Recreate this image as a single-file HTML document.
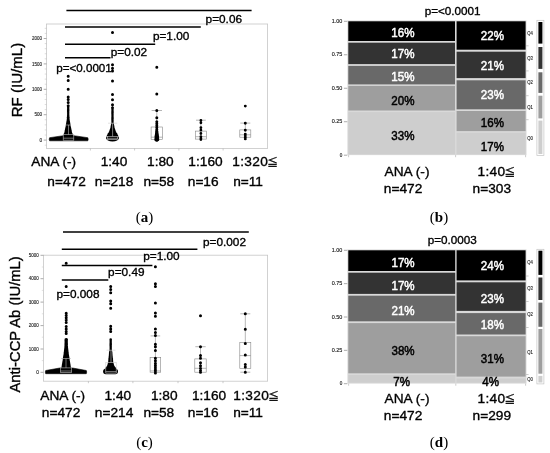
<!DOCTYPE html><html><head><meta charset="utf-8"><title>Figure</title><style>html,body{margin:0;padding:0;background:#fff}svg{display:block}</style></head><body><svg width="550" height="453" viewBox="0 0 550 453" font-family='"Liberation Sans","Noto Sans CJK JP",sans-serif'>
<rect width="550" height="453" fill="#fff"/>
<rect x="46.5" y="24.0" width="221.10000000000002" height="124.5" fill="none" stroke="#c6c6c6" stroke-width="0.8"/>
<text x="42.1" y="40.2" font-size="4.8" text-anchor="end" fill="#222" stroke="#222" stroke-width="0.12" textLength="10" lengthAdjust="spacingAndGlyphs">2000</text>
<line x1="43.7" y1="38.5" x2="46.5" y2="38.5" stroke="#888" stroke-width="0.7"/>
<text x="42.1" y="65.6" font-size="4.8" text-anchor="end" fill="#222" stroke="#222" stroke-width="0.12" textLength="10" lengthAdjust="spacingAndGlyphs">1500</text>
<line x1="43.7" y1="63.9" x2="46.5" y2="63.9" stroke="#888" stroke-width="0.7"/>
<text x="42.1" y="91.0" font-size="4.8" text-anchor="end" fill="#222" stroke="#222" stroke-width="0.12" textLength="10" lengthAdjust="spacingAndGlyphs">1000</text>
<line x1="43.7" y1="89.3" x2="46.5" y2="89.3" stroke="#888" stroke-width="0.7"/>
<text x="42.1" y="116.4" font-size="4.8" text-anchor="end" fill="#222" stroke="#222" stroke-width="0.12" textLength="7.7" lengthAdjust="spacingAndGlyphs">500</text>
<line x1="43.7" y1="114.7" x2="46.5" y2="114.7" stroke="#888" stroke-width="0.7"/>
<text x="42.1" y="141.8" font-size="4.8" text-anchor="end" fill="#222" stroke="#222" stroke-width="0.12">0</text>
<line x1="43.7" y1="140.1" x2="46.5" y2="140.1" stroke="#888" stroke-width="0.7"/>
<line x1="44.7" y1="145.18" x2="46.5" y2="145.18" stroke="#bbb" stroke-width="0.5"/>
<line x1="44.7" y1="135.01999999999998" x2="46.5" y2="135.01999999999998" stroke="#bbb" stroke-width="0.5"/>
<line x1="44.7" y1="129.94" x2="46.5" y2="129.94" stroke="#bbb" stroke-width="0.5"/>
<line x1="44.7" y1="124.86" x2="46.5" y2="124.86" stroke="#bbb" stroke-width="0.5"/>
<line x1="44.7" y1="119.78" x2="46.5" y2="119.78" stroke="#bbb" stroke-width="0.5"/>
<line x1="44.7" y1="109.61999999999999" x2="46.5" y2="109.61999999999999" stroke="#bbb" stroke-width="0.5"/>
<line x1="44.7" y1="104.53999999999999" x2="46.5" y2="104.53999999999999" stroke="#bbb" stroke-width="0.5"/>
<line x1="44.7" y1="99.46" x2="46.5" y2="99.46" stroke="#bbb" stroke-width="0.5"/>
<line x1="44.7" y1="94.38" x2="46.5" y2="94.38" stroke="#bbb" stroke-width="0.5"/>
<line x1="44.7" y1="84.22" x2="46.5" y2="84.22" stroke="#bbb" stroke-width="0.5"/>
<line x1="44.7" y1="79.13999999999999" x2="46.5" y2="79.13999999999999" stroke="#bbb" stroke-width="0.5"/>
<line x1="44.7" y1="74.05999999999999" x2="46.5" y2="74.05999999999999" stroke="#bbb" stroke-width="0.5"/>
<line x1="44.7" y1="68.97999999999999" x2="46.5" y2="68.97999999999999" stroke="#bbb" stroke-width="0.5"/>
<line x1="44.7" y1="58.81999999999999" x2="46.5" y2="58.81999999999999" stroke="#bbb" stroke-width="0.5"/>
<line x1="44.7" y1="53.739999999999995" x2="46.5" y2="53.739999999999995" stroke="#bbb" stroke-width="0.5"/>
<line x1="44.7" y1="48.66" x2="46.5" y2="48.66" stroke="#bbb" stroke-width="0.5"/>
<line x1="44.7" y1="43.58" x2="46.5" y2="43.58" stroke="#bbb" stroke-width="0.5"/>
<line x1="44.7" y1="33.41999999999999" x2="46.5" y2="33.41999999999999" stroke="#bbb" stroke-width="0.5"/>
<line x1="44.7" y1="28.33999999999999" x2="46.5" y2="28.33999999999999" stroke="#bbb" stroke-width="0.5"/>
<line x1="90.4" y1="148.5" x2="90.4" y2="150.5" stroke="#aaa" stroke-width="0.6"/>
<line x1="134.6" y1="148.5" x2="134.6" y2="150.5" stroke="#aaa" stroke-width="0.6"/>
<line x1="178.9" y1="148.5" x2="178.9" y2="150.5" stroke="#aaa" stroke-width="0.6"/>
<line x1="223.1" y1="148.5" x2="223.1" y2="150.5" stroke="#aaa" stroke-width="0.6"/>
<text transform="translate(22.2,117.3) rotate(-90)" font-size="15.5" textLength="74.5" lengthAdjust="spacingAndGlyphs" stroke="#000" stroke-width="0.35">RF (IU/mL)</text>
<path d="M68.2 108.0h0M68.2 109.2h0M68.2 110.4h0M68.2 111.6h0M68.2 112.8h0M68.2 114.0h0M68.2 115.2h0M68.2 116.4h0M68.0 117.6h0M68.2 117.6h0M68.4 117.6h0M68.0 118.8h0M68.2 118.8h0M68.4 118.8h0M67.9 120.0h0M68.2 120.0h0M68.5 120.0h0M67.7 121.2h0M68.2 121.2h0M68.7 121.2h0M67.5 122.4h0M68.2 122.4h0M68.9 122.4h0M67.3 123.6h0M68.2 123.6h0M69.1 123.6h0M67.1 124.8h0M68.2 124.8h0M69.3 124.8h0M66.9 126.0h0M68.2 126.0h0M69.5 126.0h0M66.7 127.2h0M68.2 127.2h0M69.7 127.2h0M66.4 128.4h0M67.3 128.4h0M68.2 128.4h0M69.1 128.4h0M70.0 128.4h0M66.2 129.6h0M67.2 129.6h0M68.2 129.6h0M69.2 129.6h0M70.2 129.6h0M65.9 130.8h0M67.1 130.8h0M68.2 130.8h0M69.3 130.8h0M70.5 130.8h0M65.7 132.0h0M66.9 132.0h0M68.2 132.0h0M69.5 132.0h0M70.7 132.0h0M65.4 133.2h0M66.8 133.2h0M68.2 133.2h0M69.6 133.2h0M71.0 133.2h0M64.9 134.4h0M66.0 134.4h0M67.1 134.4h0M68.2 134.4h0M69.3 134.4h0M70.4 134.4h0M71.5 134.4h0M64.4 135.6h0M65.7 135.6h0M66.9 135.6h0M68.2 135.6h0M69.5 135.6h0M70.7 135.6h0M72.0 135.6h0M64.2 136.8h0M65.5 136.8h0M66.9 136.8h0M68.2 136.8h0M69.5 136.8h0M70.9 136.8h0M72.2 136.8h0M64.0 138.0h0M65.4 138.0h0M66.8 138.0h0M68.2 138.0h0M69.6 138.0h0M71.0 138.0h0M72.4 138.0h0" stroke="#000" stroke-width="2.6" stroke-linecap="round" fill="none"/>
<path d="M49.6,137.7 L63.3,135.7 L73.9,135.7 L87.8,137.7 Q88.6,139.3 87.8,140.8 L49.6,140.8 Q48.8,139.3 49.6,137.7Z" fill="#000" stroke="#000" stroke-width="0.6" stroke-linejoin="round"/>
<path d="M68.2 76.2h0M68.2 80.4h0M68.2 89.3h0M68.2 96.9h0M68.2 99.5h0M68.2 102.6h0M68.2 105.8h0" stroke="#000" stroke-width="3.0" stroke-linecap="round" fill="none"/>
<path d="M112.5 110.0h0M112.5 111.2h0M112.5 112.4h0M112.5 113.6h0M112.5 114.8h0M112.5 116.0h0M112.5 117.2h0M112.5 118.4h0M112.5 119.6h0M112.5 120.8h0M112.5 122.0h0M112.5 123.2h0M112.3 124.4h0M112.5 124.4h0M112.7 124.4h0M112.0 125.6h0M112.5 125.6h0M113.0 125.6h0M111.8 126.8h0M112.5 126.8h0M113.2 126.8h0M111.6 128.0h0M112.5 128.0h0M113.4 128.0h0M111.2 129.2h0M112.5 129.2h0M113.8 129.2h0M110.8 130.4h0M111.7 130.4h0M112.5 130.4h0M113.3 130.4h0M114.2 130.4h0M110.4 131.6h0M111.5 131.6h0M112.5 131.6h0M113.5 131.6h0M114.6 131.6h0M109.8 132.8h0M111.1 132.8h0M112.5 132.8h0M113.9 132.8h0M115.2 132.8h0M108.9 134.0h0M110.1 134.0h0M111.3 134.0h0M112.5 134.0h0M113.7 134.0h0M114.9 134.0h0M116.1 134.0h0M108.4 135.2h0M109.7 135.2h0M111.1 135.2h0M112.5 135.2h0M113.9 135.2h0M115.3 135.2h0M116.6 135.2h0M108.0 136.0h0M109.5 136.0h0M111.0 136.0h0M112.5 136.0h0M114.0 136.0h0M115.5 136.0h0M117.0 136.0h0" stroke="#000" stroke-width="2.6" stroke-linecap="round" fill="none"/>
<ellipse cx="112.5" cy="138.1" rx="6.5" ry="3.3" fill="#000"/>
<path d="M112.5 32.4h0M112.5 64.8h0M112.5 68.3h0M112.5 70.9h0M112.5 81.0h0M112.5 94.4h0M112.5 99.7h0M112.5 104.8h0M112.5 107.8h0" stroke="#000" stroke-width="3.0" stroke-linecap="round" fill="none"/>
<g stroke="#858585" stroke-width="0.6" fill="none">
<rect x="151.10000000000002" y="127" width="11.4" height="12.599999999999994"/>
<line x1="151.10000000000002" y1="137.2" x2="162.5" y2="137.2"/>
<line x1="156.8" y1="110.5" x2="156.8" y2="127"/>
<line x1="151.60000000000002" y1="110.5" x2="162.0" y2="110.5"/>
</g>
<g stroke="#858585" stroke-width="0.6" fill="none">
<rect x="195.5" y="131.1" width="10.8" height="8.0"/>
<line x1="195.5" y1="136.7" x2="206.3" y2="136.7"/>
<line x1="200.9" y1="120.2" x2="200.9" y2="131.1"/>
<line x1="196.0" y1="120.2" x2="205.8" y2="120.2"/>
</g>
<g stroke="#858585" stroke-width="0.6" fill="none">
<rect x="239.8" y="129.9" width="11.0" height="7.299999999999983"/>
<line x1="239.8" y1="134.8" x2="250.8" y2="134.8"/>
<line x1="245.3" y1="123.1" x2="245.3" y2="129.9"/>
<line x1="240.3" y1="123.1" x2="250.3" y2="123.1"/>
</g>
<path d="M156.8 67.2h0M156.8 94.0h0M156.8 110.6h0M156.8 117.8h0M156.8 121.8h0M156.8 123.8h0M156.8 125.8h0M156.8 127.6h0M156.8 129.4h0M156.8 131.2h0M156.8 133.0h0M156.8 134.5h0M156.8 136.0h0M156.8 137.5h0M156.8 139.0h0M156.8 140.2h0" stroke="#000" stroke-width="3.0" stroke-linecap="round" fill="none"/>
<path d="M156.8 131.0h0M156.6 132.2h0M156.8 132.2h0M157.0 132.2h0M156.4 133.4h0M156.8 133.4h0M157.2 133.4h0M156.2 134.6h0M156.8 134.6h0M157.4 134.6h0M156.0 135.8h0M156.8 135.8h0M157.6 135.8h0M155.8 137.0h0M156.8 137.0h0M157.8 137.0h0M155.8 138.2h0M156.8 138.2h0M157.8 138.2h0M155.7 139.4h0M156.8 139.4h0M157.9 139.4h0M155.7 139.8h0M156.8 139.8h0M157.9 139.8h0" stroke="#000" stroke-width="2.8" stroke-linecap="round" fill="none"/>
<path d="M200.9 120.4h0M200.9 122.8h0M200.9 127.7h0M200.9 130.2h0M200.9 133.5h0M200.9 136.7h0M200.9 138.4h0M200.9 139.6h0" stroke="#000" stroke-width="2.8" stroke-linecap="round" fill="none"/>
<path d="M245.3 106.1h0M245.3 123.2h0M245.3 130.2h0M245.3 134.3h0M245.3 135.9h0M245.3 137.6h0M245.3 138.9h0" stroke="#000" stroke-width="2.9" stroke-linecap="round" fill="none"/>
<g stroke="#bbb" stroke-width="0.6" fill="none">
<rect x="63.2" y="134.6" width="10.6" height="5.599999999999994"/>
<line x1="63.2" y1="138.2" x2="73.8" y2="138.2"/>
<line x1="68.5" y1="125" x2="68.5" y2="134.6"/>
<line x1="66.0" y1="125" x2="71.0" y2="125"/>
</g>
<g stroke="#ccc" stroke-width="0.6" fill="none">
<rect x="107.6" y="136.4" width="10" height="3.1999999999999886"/>
<line x1="107.6" y1="138.3" x2="117.6" y2="138.3"/>
<line x1="112.6" y1="123.2" x2="112.6" y2="136.4"/>
<line x1="108.0" y1="123.2" x2="117.19999999999999" y2="123.2"/>
</g>
<line x1="66.4" y1="10.6" x2="251.6" y2="10.6" stroke="#000" stroke-width="1.5"/>
<line x1="65" y1="26.9" x2="200.8" y2="26.9" stroke="#000" stroke-width="1.5"/>
<line x1="65" y1="44.2" x2="155.2" y2="44.2" stroke="#000" stroke-width="1.5"/>
<line x1="65" y1="57.8" x2="110.5" y2="57.8" stroke="#000" stroke-width="1.5"/>
<text x="205.6" y="23.0" font-size="11.8" text-anchor="start" fill="#000" stroke="#000" stroke-width="0.35">p=0.06</text>
<text x="152.9" y="39.7" font-size="11.8" text-anchor="start" fill="#000" stroke="#000" stroke-width="0.35">p=1.00</text>
<text x="110.7" y="56.2" font-size="11.8" text-anchor="start" fill="#000" stroke="#000" stroke-width="0.35">p=0.02</text>
<text x="56.3" y="71.6" font-size="11.6" text-anchor="start" fill="#000" stroke="#000" stroke-width="0.35">p=&lt;0.0001</text>
<text x="53.75" y="166.0" font-size="13.7" text-anchor="middle" fill="#000" stroke="#000" stroke-width="0.35">ANA (-)</text>
<text x="114.0" y="166.0" font-size="13.7" text-anchor="middle" fill="#000" stroke="#000" stroke-width="0.35">1:40</text>
<text x="160.35" y="166.0" font-size="13.7" text-anchor="middle" fill="#000" stroke="#000" stroke-width="0.35">1:80</text>
<text x="205.5" y="166.0" font-size="13.7" text-anchor="middle" fill="#000" stroke="#000" stroke-width="0.35">1:160</text>
<text x="232.3" y="166.0" font-size="13.7" text-anchor="start" fill="#000" stroke="#000" stroke-width="0.35" letter-spacing="0.3">1:320<tspan font-size="10.6" font-family="Noto Sans CJK JP" dy="0.2" dx="-0.9">≦</tspan></text>
<text x="66.6" y="185.5" font-size="13.7" text-anchor="middle" fill="#000" stroke="#000" stroke-width="0.35">n=472</text>
<text x="114.1" y="185.5" font-size="13.7" text-anchor="middle" fill="#000" stroke="#000" stroke-width="0.35">n=218</text>
<text x="158.8" y="185.5" font-size="13.7" text-anchor="middle" fill="#000" stroke="#000" stroke-width="0.35">n=58</text>
<text x="203.2" y="185.5" font-size="13.7" text-anchor="middle" fill="#000" stroke="#000" stroke-width="0.35">n=16</text>
<text x="248.1" y="185.5" font-size="13.7" text-anchor="middle" fill="#000" stroke="#000" stroke-width="0.35">n=11</text>
<text x="144.5" y="221.5" font-size="15" text-anchor="middle" font-family='"Liberation Serif","Noto Serif CJK SC",serif'>(<tspan font-weight="bold">a</tspan>)</text>
<rect x="43.4" y="255.2" width="224.20000000000002" height="126.0" fill="none" stroke="#c6c6c6" stroke-width="0.8"/>
<text x="38.8" y="257.0" font-size="4.8" text-anchor="end" fill="#222" stroke="#222" stroke-width="0.12" textLength="10" lengthAdjust="spacingAndGlyphs">5000</text>
<line x1="40.5" y1="255.3" x2="43.4" y2="255.3" stroke="#888" stroke-width="0.7"/>
<text x="38.8" y="280.4" font-size="4.8" text-anchor="end" fill="#222" stroke="#222" stroke-width="0.12" textLength="10" lengthAdjust="spacingAndGlyphs">4000</text>
<line x1="40.5" y1="278.7" x2="43.4" y2="278.7" stroke="#888" stroke-width="0.7"/>
<text x="38.8" y="303.8" font-size="4.8" text-anchor="end" fill="#222" stroke="#222" stroke-width="0.12" textLength="10" lengthAdjust="spacingAndGlyphs">3000</text>
<line x1="40.5" y1="302.1" x2="43.4" y2="302.1" stroke="#888" stroke-width="0.7"/>
<text x="38.8" y="327.3" font-size="4.8" text-anchor="end" fill="#222" stroke="#222" stroke-width="0.12" textLength="10" lengthAdjust="spacingAndGlyphs">2000</text>
<line x1="40.5" y1="325.6" x2="43.4" y2="325.6" stroke="#888" stroke-width="0.7"/>
<text x="38.8" y="350.7" font-size="4.8" text-anchor="end" fill="#222" stroke="#222" stroke-width="0.12" textLength="10" lengthAdjust="spacingAndGlyphs">1000</text>
<line x1="40.5" y1="349" x2="43.4" y2="349" stroke="#888" stroke-width="0.7"/>
<text x="38.8" y="374.0" font-size="4.8" text-anchor="end" fill="#222" stroke="#222" stroke-width="0.12">0</text>
<line x1="40.5" y1="372.3" x2="43.4" y2="372.3" stroke="#888" stroke-width="0.7"/>
<line x1="41.8" y1="360.6" x2="43.4" y2="360.6" stroke="#c4c4c4" stroke-width="0.5"/>
<line x1="41.8" y1="337.20000000000005" x2="43.4" y2="337.20000000000005" stroke="#c4c4c4" stroke-width="0.5"/>
<line x1="41.8" y1="313.8" x2="43.4" y2="313.8" stroke="#c4c4c4" stroke-width="0.5"/>
<line x1="41.8" y1="290.40000000000003" x2="43.4" y2="290.40000000000003" stroke="#c4c4c4" stroke-width="0.5"/>
<line x1="41.8" y1="267.0" x2="43.4" y2="267.0" stroke="#c4c4c4" stroke-width="0.5"/>
<line x1="88.4" y1="381.2" x2="88.4" y2="383.2" stroke="#aaa" stroke-width="0.6"/>
<line x1="132.9" y1="381.2" x2="132.9" y2="383.2" stroke="#aaa" stroke-width="0.6"/>
<line x1="178" y1="381.2" x2="178" y2="383.2" stroke="#aaa" stroke-width="0.6"/>
<line x1="223" y1="381.2" x2="223" y2="383.2" stroke="#aaa" stroke-width="0.6"/>
<text transform="translate(19.8,392.5) rotate(-90)" font-size="14.8" textLength="136.3" lengthAdjust="spacingAndGlyphs" stroke="#000" stroke-width="0.35">Anti-CCP Ab (IU/mL)</text>
<path d="M65.8 339.6h0M66.2 339.6h0M66.7 339.6h0M65.7 340.8h0M66.2 340.8h0M66.7 340.8h0M65.7 342.0h0M66.2 342.0h0M66.7 342.0h0M65.7 343.2h0M66.2 343.2h0M66.7 343.2h0M65.7 344.4h0M66.2 344.4h0M66.7 344.4h0M65.7 345.6h0M66.2 345.6h0M66.7 345.6h0M65.6 346.8h0M66.2 346.8h0M66.8 346.8h0M65.5 348.0h0M66.2 348.0h0M66.9 348.0h0M65.3 349.2h0M66.2 349.2h0M67.1 349.2h0M65.2 350.4h0M66.2 350.4h0M67.2 350.4h0M65.1 351.6h0M66.2 351.6h0M67.3 351.6h0M64.9 352.8h0M66.2 352.8h0M67.5 352.8h0M64.8 354.0h0M66.2 354.0h0M67.6 354.0h0M64.6 355.2h0M65.4 355.2h0M66.2 355.2h0M67.0 355.2h0M67.8 355.2h0M64.4 356.4h0M65.3 356.4h0M66.2 356.4h0M67.1 356.4h0M68.0 356.4h0M64.2 357.6h0M65.2 357.6h0M66.2 357.6h0M67.2 357.6h0M68.2 357.6h0M64.0 358.8h0M65.1 358.8h0M66.2 358.8h0M67.3 358.8h0M68.4 358.8h0M63.9 360.0h0M65.0 360.0h0M66.2 360.0h0M67.4 360.0h0M68.5 360.0h0M63.7 361.2h0M64.9 361.2h0M66.2 361.2h0M67.5 361.2h0M68.7 361.2h0M63.5 362.4h0M64.8 362.4h0M66.2 362.4h0M67.6 362.4h0M68.9 362.4h0M63.3 363.6h0M64.7 363.6h0M66.2 363.6h0M67.7 363.6h0M69.1 363.6h0M63.1 364.8h0M64.6 364.8h0M66.2 364.8h0M67.8 364.8h0M69.3 364.8h0M62.9 366.0h0M64.0 366.0h0M65.1 366.0h0M66.2 366.0h0M67.3 366.0h0M68.4 366.0h0M69.5 366.0h0M62.7 367.2h0M63.8 367.2h0M65.0 367.2h0M66.2 367.2h0M67.4 367.2h0M68.6 367.2h0M69.7 367.2h0M62.5 368.4h0M63.7 368.4h0M65.0 368.4h0M66.2 368.4h0M67.4 368.4h0M68.7 368.4h0M69.9 368.4h0M62.3 369.6h0M63.6 369.6h0M64.9 369.6h0M66.2 369.6h0M67.5 369.6h0M68.8 369.6h0M70.1 369.6h0M62.2 370.0h0M63.5 370.0h0M64.9 370.0h0M66.2 370.0h0M67.5 370.0h0M68.9 370.0h0M70.2 370.0h0" stroke="#000" stroke-width="2.6" stroke-linecap="round" fill="none"/>
<path d="M45.7,370.5 L59.8,368 L72.6,368 L86.3,370.5 Q87.1,372 86.3,373.7 L45.7,373.7 Q44.9,372 45.7,370.5Z" fill="#000" stroke="#000" stroke-width="0.6" stroke-linejoin="round"/>
<path d="M66.2 263.3h0M66.2 286.4h0M66.2 313.2h0M66.2 315.5h0M66.2 317.8h0M66.2 320.1h0M66.2 322.6h0M66.2 326.5h0M66.2 329.0h0M66.2 331.5h0M66.2 333.5h0" stroke="#000" stroke-width="3.0" stroke-linecap="round" fill="none"/>
<path d="M110.7 339.6h0M110.7 340.8h0M110.7 342.0h0M110.7 343.2h0M110.7 344.4h0M110.7 345.6h0M110.7 346.8h0M110.7 348.0h0M110.7 349.2h0M110.7 350.4h0M110.4 351.6h0M110.7 351.6h0M111.0 351.6h0M110.2 352.8h0M110.7 352.8h0M111.2 352.8h0M110.1 354.0h0M110.7 354.0h0M111.3 354.0h0M110.0 355.2h0M110.7 355.2h0M111.4 355.2h0M109.9 356.4h0M110.7 356.4h0M111.5 356.4h0M109.8 357.6h0M110.7 357.6h0M111.6 357.6h0M109.6 358.8h0M110.7 358.8h0M111.8 358.8h0M109.5 360.0h0M110.7 360.0h0M111.9 360.0h0M109.4 361.2h0M110.7 361.2h0M112.0 361.2h0M109.3 362.4h0M110.7 362.4h0M112.1 362.4h0M109.0 363.6h0M109.8 363.6h0M110.7 363.6h0M111.6 363.6h0M112.4 363.6h0M108.7 364.8h0M109.7 364.8h0M110.7 364.8h0M111.7 364.8h0M112.7 364.8h0M108.3 366.0h0M109.5 366.0h0M110.7 366.0h0M111.9 366.0h0M113.1 366.0h0M107.5 367.2h0M108.5 367.2h0M109.6 367.2h0M110.7 367.2h0M111.8 367.2h0M112.9 367.2h0M113.9 367.2h0M106.6 368.4h0M108.0 368.4h0M109.3 368.4h0M110.7 368.4h0M112.1 368.4h0M113.4 368.4h0M114.8 368.4h0M105.9 369.5h0M107.5 369.5h0M109.1 369.5h0M110.7 369.5h0M112.3 369.5h0M113.9 369.5h0M115.5 369.5h0" stroke="#000" stroke-width="2.6" stroke-linecap="round" fill="none"/>
<rect x="103.1" y="368.7" width="14.9" height="5.5" rx="2.7" fill="#000"/>
<path d="M110.7 286.6h0M110.7 289.6h0M110.7 292.8h0M110.7 301.1h0M110.7 303.7h0M110.7 308.3h0M110.7 326.2h0M110.7 329.0h0M110.7 331.5h0" stroke="#000" stroke-width="3.0" stroke-linecap="round" fill="none"/>
<g stroke="#858585" stroke-width="0.6" fill="none">
<rect x="150.1" y="357.4" width="10.6" height="14.800000000000011"/>
<line x1="150.1" y1="370.9" x2="160.70000000000002" y2="370.9"/>
<line x1="155.4" y1="335.9" x2="155.4" y2="357.4"/>
<line x1="150.6" y1="335.9" x2="160.20000000000002" y2="335.9"/>
</g>
<g stroke="#858585" stroke-width="0.6" fill="none">
<rect x="194.8" y="358.9" width="11.4" height="13.300000000000011"/>
<line x1="194.8" y1="368.3" x2="206.2" y2="368.3"/>
<line x1="200.5" y1="346.7" x2="200.5" y2="358.9"/>
<line x1="195.3" y1="346.7" x2="205.7" y2="346.7"/>
</g>
<g stroke="#858585" stroke-width="0.6" fill="none">
<rect x="239.8" y="342.4" width="11.0" height="25.900000000000034"/>
<line x1="239.8" y1="355.6" x2="250.8" y2="355.6"/>
<line x1="245.3" y1="313.8" x2="245.3" y2="342.4"/>
<line x1="240.3" y1="313.8" x2="250.3" y2="313.8"/>
<line x1="245.3" y1="368.3" x2="245.3" y2="372.2"/>
<line x1="240.3" y1="372.2" x2="250.3" y2="372.2"/>
</g>
<path d="M155.4 266.7h0M155.4 283.8h0M155.4 286.6h0M155.4 303.1h0M155.4 313.0h0M155.4 316.3h0M155.4 329.0h0M155.4 332.4h0M155.4 335.6h0M155.4 344.2h0M155.4 346.7h0M155.4 350.5h0M155.4 358.2h0M155.4 360.7h0M155.4 363.3h0M155.4 365.3h0M155.4 367.0h0M155.4 368.9h0M155.4 370.4h0M155.4 371.9h0M155.4 372.9h0" stroke="#000" stroke-width="3.0" stroke-linecap="round" fill="none"/>
<path d="M200.5 315.8h0M200.5 346.7h0M200.5 355.6h0M200.5 358.2h0M200.5 362.7h0M200.5 365.8h0M200.5 368.3h0M200.5 370.4h0M200.5 372.2h0" stroke="#000" stroke-width="3.0" stroke-linecap="round" fill="none"/>
<path d="M245.3 313.8h0M245.3 329.2h0M245.3 343.4h0M245.3 354.9h0M245.3 364.5h0M245.3 367.0h0M245.3 372.2h0" stroke="#000" stroke-width="3.0" stroke-linecap="round" fill="none"/>
<g stroke="#bbb" stroke-width="0.6" fill="none">
<rect x="60.3" y="367.9" width="11.4" height="4.800000000000011"/>
<line x1="60.3" y1="371" x2="71.7" y2="371"/>
<line x1="66.0" y1="358.5" x2="66.0" y2="367.9"/>
<line x1="61.0" y1="358.5" x2="71.0" y2="358.5"/>
</g>
<g stroke="#ccc" stroke-width="0.6" fill="none">
<rect x="105.8" y="362.6" width="10.4" height="10.5"/>
<line x1="105.8" y1="371.6" x2="116.2" y2="371.6"/>
<line x1="111.0" y1="350.2" x2="111.0" y2="362.6"/>
<line x1="106.5" y1="350.2" x2="115.5" y2="350.2"/>
</g>
<line x1="63" y1="232" x2="248.8" y2="232" stroke="#000" stroke-width="1.45"/>
<line x1="61.8" y1="249.2" x2="197.4" y2="249.2" stroke="#000" stroke-width="1.45"/>
<line x1="61.8" y1="265.4" x2="152.4" y2="265.4" stroke="#000" stroke-width="1.45"/>
<line x1="61.8" y1="280" x2="108.3" y2="280" stroke="#000" stroke-width="1.45"/>
<text x="203" y="246.4" font-size="11.8" text-anchor="start" fill="#000" stroke="#000" stroke-width="0.35">p=0.002</text>
<text x="143.2" y="259.8" font-size="11.8" text-anchor="start" fill="#000" stroke="#000" stroke-width="0.35">p=1.00</text>
<text x="108.1" y="276.1" font-size="11.8" text-anchor="start" fill="#000" stroke="#000" stroke-width="0.35">p=0.49</text>
<text x="56.5" y="297.7" font-size="11.8" text-anchor="start" fill="#000" stroke="#000" stroke-width="0.35">p=0.008</text>
<text x="62.7" y="400.2" font-size="13.7" text-anchor="middle" fill="#000" stroke="#000" stroke-width="0.35">ANA (-)</text>
<text x="117.8" y="400.2" font-size="13.7" text-anchor="middle" fill="#000" stroke="#000" stroke-width="0.35">1:40</text>
<text x="164.2" y="400.2" font-size="13.7" text-anchor="middle" fill="#000" stroke="#000" stroke-width="0.35">1:80</text>
<text x="209.05" y="400.2" font-size="13.7" text-anchor="middle" fill="#000" stroke="#000" stroke-width="0.35">1:160</text>
<text x="233.3" y="400.2" font-size="13.7" text-anchor="start" fill="#000" stroke="#000" stroke-width="0.35" letter-spacing="0.3">1:320<tspan font-size="10.6" font-family="Noto Sans CJK JP" dy="0.2" dx="-0.9">≦</tspan></text>
<text x="61.05" y="417.3" font-size="13.7" text-anchor="middle" fill="#000" stroke="#000" stroke-width="0.35">n=472</text>
<text x="114.1" y="417.3" font-size="13.7" text-anchor="middle" fill="#000" stroke="#000" stroke-width="0.35">n=214</text>
<text x="158.8" y="417.3" font-size="13.7" text-anchor="middle" fill="#000" stroke="#000" stroke-width="0.35">n=58</text>
<text x="203.2" y="417.3" font-size="13.7" text-anchor="middle" fill="#000" stroke="#000" stroke-width="0.35">n=16</text>
<text x="248.1" y="417.3" font-size="13.7" text-anchor="middle" fill="#000" stroke="#000" stroke-width="0.35">n=11</text>
<text x="144.5" y="447" font-size="15" text-anchor="middle" font-family='"Liberation Serif","Noto Serif CJK SC",serif'>(<tspan font-weight="bold">c</tspan>)</text>
<rect x="347.40000000000003" y="20.400000000000002" width="179.10000000000002" height="134.7" fill="#d9d9d9"/>
<rect x="348.3" y="21.3" width="106.7" height="19.7" fill="#000"/>
<rect x="348.3" y="42.7" width="106.7" height="21.4" fill="#333"/>
<rect x="348.3" y="65.9" width="106.7" height="18.5" fill="#696969"/>
<rect x="348.3" y="85.9" width="106.7" height="24.6" fill="#9e9e9e"/>
<rect x="348.3" y="112.1" width="106.7" height="42.1" fill="#cecece"/>
<text x="402.95" y="37.25" font-size="13" text-anchor="middle" fill="#fff" stroke="#fff" stroke-width="0.5" textLength="23.2" lengthAdjust="spacingAndGlyphs">16%</text>
<text x="402.95" y="58.05" font-size="13" text-anchor="middle" fill="#fff" stroke="#fff" stroke-width="0.5" textLength="23.2" lengthAdjust="spacingAndGlyphs">17%</text>
<text x="402.95" y="81.45" font-size="13" text-anchor="middle" fill="#fff" stroke="#fff" stroke-width="0.5" textLength="23.2" lengthAdjust="spacingAndGlyphs">15%</text>
<text x="402.95" y="104.55" font-size="13" text-anchor="middle" fill="#000" stroke="#000" stroke-width="0.5" textLength="23.2" lengthAdjust="spacingAndGlyphs">20%</text>
<text x="402.95" y="139.95" font-size="13" text-anchor="middle" fill="#000" stroke="#000" stroke-width="0.5" textLength="23.2" lengthAdjust="spacingAndGlyphs">33%</text>
<rect x="456.6" y="21.3" width="69.0" height="28.4" fill="#000"/>
<rect x="456.6" y="51.7" width="69.0" height="26.4" fill="#333"/>
<rect x="456.6" y="80.3" width="69.0" height="29.0" fill="#696969"/>
<rect x="456.6" y="111.0" width="69.0" height="20.1" fill="#9e9e9e"/>
<rect x="456.6" y="132.8" width="69.0" height="21.4" fill="#cecece"/>
<text x="492.4" y="40.45" font-size="13" text-anchor="middle" fill="#fff" stroke="#fff" stroke-width="0.5" textLength="23.2" lengthAdjust="spacingAndGlyphs">22%</text>
<text x="492.4" y="70.35" font-size="13" text-anchor="middle" fill="#fff" stroke="#fff" stroke-width="0.5" textLength="23.2" lengthAdjust="spacingAndGlyphs">21%</text>
<text x="492.4" y="99.45" font-size="13" text-anchor="middle" fill="#fff" stroke="#fff" stroke-width="0.5" textLength="23.2" lengthAdjust="spacingAndGlyphs">23%</text>
<text x="492.4" y="126.85" font-size="13" text-anchor="middle" fill="#000" stroke="#000" stroke-width="0.5" textLength="23.2" lengthAdjust="spacingAndGlyphs">16%</text>
<text x="492.4" y="151.25" font-size="13" text-anchor="middle" fill="#000" stroke="#000" stroke-width="0.5" textLength="23.2" lengthAdjust="spacingAndGlyphs">17%</text>
<text x="342.3" y="22.9" font-size="4.6" text-anchor="end" fill="#222" stroke="#222" stroke-width="0.12" textLength="10.6" lengthAdjust="spacingAndGlyphs">1.00</text>
<line x1="343.90000000000003" y1="21.30000000000001" x2="347.3" y2="21.30000000000001" stroke="#888" stroke-width="0.7"/>
<text x="342.3" y="56.38" font-size="4.6" text-anchor="end" fill="#222" stroke="#222" stroke-width="0.12" textLength="10.6" lengthAdjust="spacingAndGlyphs">0.75</text>
<line x1="343.90000000000003" y1="54.775000000000006" x2="347.3" y2="54.775000000000006" stroke="#888" stroke-width="0.7"/>
<text x="342.3" y="89.85" font-size="4.6" text-anchor="end" fill="#222" stroke="#222" stroke-width="0.12" textLength="10.6" lengthAdjust="spacingAndGlyphs">0.50</text>
<line x1="343.90000000000003" y1="88.25" x2="347.3" y2="88.25" stroke="#888" stroke-width="0.7"/>
<text x="342.3" y="123.32" font-size="4.6" text-anchor="end" fill="#222" stroke="#222" stroke-width="0.12" textLength="10.6" lengthAdjust="spacingAndGlyphs">0.25</text>
<line x1="343.90000000000003" y1="121.725" x2="347.3" y2="121.725" stroke="#888" stroke-width="0.7"/>
<text x="342.3" y="156.8" font-size="4.6" text-anchor="end" fill="#222" stroke="#222" stroke-width="0.12">0</text>
<line x1="343.90000000000003" y1="155.2" x2="347.3" y2="155.2" stroke="#888" stroke-width="0.7"/>
<line x1="348.6" y1="155.1" x2="348.6" y2="157.2" stroke="#aaa" stroke-width="0.6"/>
<line x1="455.6" y1="155.1" x2="455.6" y2="157.2" stroke="#aaa" stroke-width="0.6"/>
<line x1="525.6" y1="155.1" x2="525.6" y2="157.2" stroke="#aaa" stroke-width="0.6"/>
<line x1="526.1" y1="45.8" x2="528.6" y2="45.8" stroke="#aaa" stroke-width="0.6"/>
<line x1="526.1" y1="70.9" x2="528.6" y2="70.9" stroke="#aaa" stroke-width="0.6"/>
<line x1="526.1" y1="95.7" x2="528.6" y2="95.7" stroke="#aaa" stroke-width="0.6"/>
<line x1="526.1" y1="119.7" x2="528.6" y2="119.7" stroke="#aaa" stroke-width="0.6"/>
<text x="452.65" y="14.6" font-size="11.7" text-anchor="middle" fill="#000" stroke="#000" stroke-width="0.35">p=&lt;0.0001</text>
<text x="407.05" y="175.8" font-size="13.7" text-anchor="middle" fill="#000" stroke="#000" stroke-width="0.35">ANA (-)</text>
<text x="403.05" y="192.8" font-size="13.7" text-anchor="middle" fill="#000" stroke="#000" stroke-width="0.35">n=472</text>
<text x="477.5" y="175.8" font-size="13.7" text-anchor="start" fill="#000" stroke="#000" stroke-width="0.35" letter-spacing="0.3">1:40<tspan font-size="10.6" font-family="Noto Sans CJK JP" dy="0.2" dx="-0.9">≦</tspan></text>
<text x="491.85" y="192.8" font-size="13.7" text-anchor="middle" fill="#000" stroke="#000" stroke-width="0.35">n=303</text>
<rect x="536.9" y="20.3" width="7" height="135.09999999999997" fill="#fff" stroke="#c4c4c4" stroke-width="0.7"/>
<rect x="538.4" y="22" width="4" height="21.6" fill="#000"/>
<rect x="538.4" y="47" width="4" height="21.900000000000006" fill="#333"/>
<rect x="538.4" y="72.3" width="4" height="20.60000000000001" fill="#696969"/>
<rect x="538.4" y="95.7" width="4" height="22.700000000000003" fill="#9e9e9e"/>
<rect x="538.4" y="120.6" width="4" height="33.400000000000006" fill="#cecece"/>
<text x="527.2" y="35.4" font-size="4.5" text-anchor="start" fill="#222" stroke="#222" stroke-width="0.12" textLength="5.6" lengthAdjust="spacingAndGlyphs">Q4</text>
<text x="527.2" y="60.1" font-size="4.5" text-anchor="start" fill="#222" stroke="#222" stroke-width="0.12" textLength="5.6" lengthAdjust="spacingAndGlyphs">Q3</text>
<text x="527.2" y="84.3" font-size="4.5" text-anchor="start" fill="#222" stroke="#222" stroke-width="0.12" textLength="5.6" lengthAdjust="spacingAndGlyphs">Q2</text>
<text x="527.2" y="109.1" font-size="4.5" text-anchor="start" fill="#222" stroke="#222" stroke-width="0.12" textLength="5.6" lengthAdjust="spacingAndGlyphs">Q1</text>
<text x="527.2" y="139.7" font-size="4.5" text-anchor="start" fill="#222" stroke="#222" stroke-width="0.12" textLength="5.6" lengthAdjust="spacingAndGlyphs">Q0</text>
<text x="439" y="221.5" font-size="15" text-anchor="middle" font-family='"Liberation Serif","Noto Serif CJK SC",serif'>(<tspan font-weight="bold">b</tspan>)</text>
<rect x="347.40000000000003" y="249.4" width="179.10000000000002" height="134.2" fill="#d9d9d9"/>
<rect x="348.3" y="250.3" width="106.9" height="20.7" fill="#000"/>
<rect x="348.3" y="272.7" width="106.9" height="21.2" fill="#333"/>
<rect x="348.3" y="295.7" width="106.9" height="25.6" fill="#696969"/>
<rect x="348.3" y="323.1" width="106.9" height="50.2" fill="#9e9e9e"/>
<rect x="348.3" y="375.0" width="106.9" height="7.7" fill="#cecece"/>
<text x="403.05" y="267.25" font-size="13" text-anchor="middle" fill="#fff" stroke="#fff" stroke-width="0.5" textLength="23.2" lengthAdjust="spacingAndGlyphs">17%</text>
<text x="403.05" y="290.15" font-size="13" text-anchor="middle" fill="#fff" stroke="#fff" stroke-width="0.5" textLength="23.2" lengthAdjust="spacingAndGlyphs">17%</text>
<text x="403.05" y="315.25" font-size="13" text-anchor="middle" fill="#fff" stroke="#fff" stroke-width="0.5" textLength="23.2" lengthAdjust="spacingAndGlyphs">21%</text>
<text x="403.05" y="355.25" font-size="13" text-anchor="middle" fill="#000" stroke="#000" stroke-width="0.5" textLength="23.2" lengthAdjust="spacingAndGlyphs">38%</text>
<text x="401.7" y="385.7" font-size="13" text-anchor="middle" fill="#000" stroke="#000" stroke-width="0.5" textLength="16.8" lengthAdjust="spacingAndGlyphs">7%</text>
<rect x="456.6" y="250.3" width="69.0" height="30.1" fill="#000"/>
<rect x="456.6" y="282.3" width="69.0" height="28.6" fill="#333"/>
<rect x="456.6" y="313.1" width="69.0" height="21.4" fill="#696969"/>
<rect x="456.6" y="336.2" width="69.0" height="40.4" fill="#9e9e9e"/>
<rect x="456.6" y="378.5" width="69.0" height="4.2" fill="#cecece"/>
<text x="492.4" y="269.85" font-size="13" text-anchor="middle" fill="#fff" stroke="#fff" stroke-width="0.5" textLength="23.2" lengthAdjust="spacingAndGlyphs">24%</text>
<text x="492.4" y="302.65" font-size="13" text-anchor="middle" fill="#fff" stroke="#fff" stroke-width="0.5" textLength="23.2" lengthAdjust="spacingAndGlyphs">23%</text>
<text x="492.4" y="329.05" font-size="13" text-anchor="middle" fill="#fff" stroke="#fff" stroke-width="0.5" textLength="23.2" lengthAdjust="spacingAndGlyphs">18%</text>
<text x="492.4" y="363.45" font-size="13" text-anchor="middle" fill="#000" stroke="#000" stroke-width="0.5" textLength="23.2" lengthAdjust="spacingAndGlyphs">31%</text>
<text x="490.6" y="385.7" font-size="13" text-anchor="middle" fill="#000" stroke="#000" stroke-width="0.5" textLength="16.8" lengthAdjust="spacingAndGlyphs">4%</text>
<text x="342.3" y="251.9" font-size="4.6" text-anchor="end" fill="#222" stroke="#222" stroke-width="0.12" textLength="10.6" lengthAdjust="spacingAndGlyphs">1.00</text>
<line x1="343.90000000000003" y1="250.3" x2="347.3" y2="250.3" stroke="#888" stroke-width="0.7"/>
<text x="342.3" y="285.25" font-size="4.6" text-anchor="end" fill="#222" stroke="#222" stroke-width="0.12" textLength="10.6" lengthAdjust="spacingAndGlyphs">0.75</text>
<line x1="343.90000000000003" y1="283.65" x2="347.3" y2="283.65" stroke="#888" stroke-width="0.7"/>
<text x="342.3" y="318.6" font-size="4.6" text-anchor="end" fill="#222" stroke="#222" stroke-width="0.12" textLength="10.6" lengthAdjust="spacingAndGlyphs">0.50</text>
<line x1="343.90000000000003" y1="317.0" x2="347.3" y2="317.0" stroke="#888" stroke-width="0.7"/>
<text x="342.3" y="351.95" font-size="4.6" text-anchor="end" fill="#222" stroke="#222" stroke-width="0.12" textLength="10.6" lengthAdjust="spacingAndGlyphs">0.25</text>
<line x1="343.90000000000003" y1="350.35" x2="347.3" y2="350.35" stroke="#888" stroke-width="0.7"/>
<text x="342.3" y="385.3" font-size="4.6" text-anchor="end" fill="#222" stroke="#222" stroke-width="0.12">0</text>
<line x1="343.90000000000003" y1="383.7" x2="347.3" y2="383.7" stroke="#888" stroke-width="0.7"/>
<line x1="348.6" y1="383.59999999999997" x2="348.6" y2="385.7" stroke="#aaa" stroke-width="0.6"/>
<line x1="455.8" y1="383.59999999999997" x2="455.8" y2="385.7" stroke="#aaa" stroke-width="0.6"/>
<line x1="525.6" y1="383.59999999999997" x2="525.6" y2="385.7" stroke="#aaa" stroke-width="0.6"/>
<line x1="526.1" y1="276" x2="528.6" y2="276" stroke="#aaa" stroke-width="0.6"/>
<line x1="526.1" y1="301.5" x2="528.6" y2="301.5" stroke="#aaa" stroke-width="0.6"/>
<line x1="526.1" y1="327.5" x2="528.6" y2="327.5" stroke="#aaa" stroke-width="0.6"/>
<line x1="526.1" y1="374.5" x2="528.6" y2="374.5" stroke="#aaa" stroke-width="0.6"/>
<text x="452.35" y="243.9" font-size="11.7" text-anchor="middle" fill="#000" stroke="#000" stroke-width="0.35">p=0.0003</text>
<text x="407.05" y="403.1" font-size="13.7" text-anchor="middle" fill="#000" stroke="#000" stroke-width="0.35">ANA (-)</text>
<text x="403.05" y="420.1" font-size="13.7" text-anchor="middle" fill="#000" stroke="#000" stroke-width="0.35">n=472</text>
<text x="477.5" y="403.1" font-size="13.7" text-anchor="start" fill="#000" stroke="#000" stroke-width="0.35" letter-spacing="0.3">1:40<tspan font-size="10.6" font-family="Noto Sans CJK JP" dy="0.2" dx="-0.9">≦</tspan></text>
<text x="491.85" y="420.1" font-size="13.7" text-anchor="middle" fill="#000" stroke="#000" stroke-width="0.35">n=299</text>
<rect x="536.9" y="249.3" width="7" height="134.59999999999997" fill="#fff" stroke="#c4c4c4" stroke-width="0.7"/>
<rect x="538.4" y="250.7" width="4" height="24.19999999999999" fill="#000"/>
<rect x="538.4" y="277.5" width="4" height="22.5" fill="#333"/>
<rect x="538.4" y="302.6" width="4" height="24.19999999999999" fill="#696969"/>
<rect x="538.4" y="329" width="4" height="44.69999999999999" fill="#9e9e9e"/>
<rect x="538.4" y="375.9" width="4" height="6.600000000000023" fill="#cecece"/>
<text x="527.2" y="264.3" font-size="4.5" text-anchor="start" fill="#222" stroke="#222" stroke-width="0.12" textLength="5.6" lengthAdjust="spacingAndGlyphs">Q4</text>
<text x="527.2" y="290.1" font-size="4.5" text-anchor="start" fill="#222" stroke="#222" stroke-width="0.12" textLength="5.6" lengthAdjust="spacingAndGlyphs">Q3</text>
<text x="527.2" y="316.4" font-size="4.5" text-anchor="start" fill="#222" stroke="#222" stroke-width="0.12" textLength="5.6" lengthAdjust="spacingAndGlyphs">Q2</text>
<text x="527.2" y="353.5" font-size="4.5" text-anchor="start" fill="#222" stroke="#222" stroke-width="0.12" textLength="5.6" lengthAdjust="spacingAndGlyphs">Q1</text>
<text x="527.2" y="381.4" font-size="4.5" text-anchor="start" fill="#222" stroke="#222" stroke-width="0.12" textLength="5.6" lengthAdjust="spacingAndGlyphs">Q0</text>
<text x="439" y="447" font-size="15" text-anchor="middle" font-family='"Liberation Serif","Noto Serif CJK SC",serif'>(<tspan font-weight="bold">d</tspan>)</text>
</svg></body></html>
